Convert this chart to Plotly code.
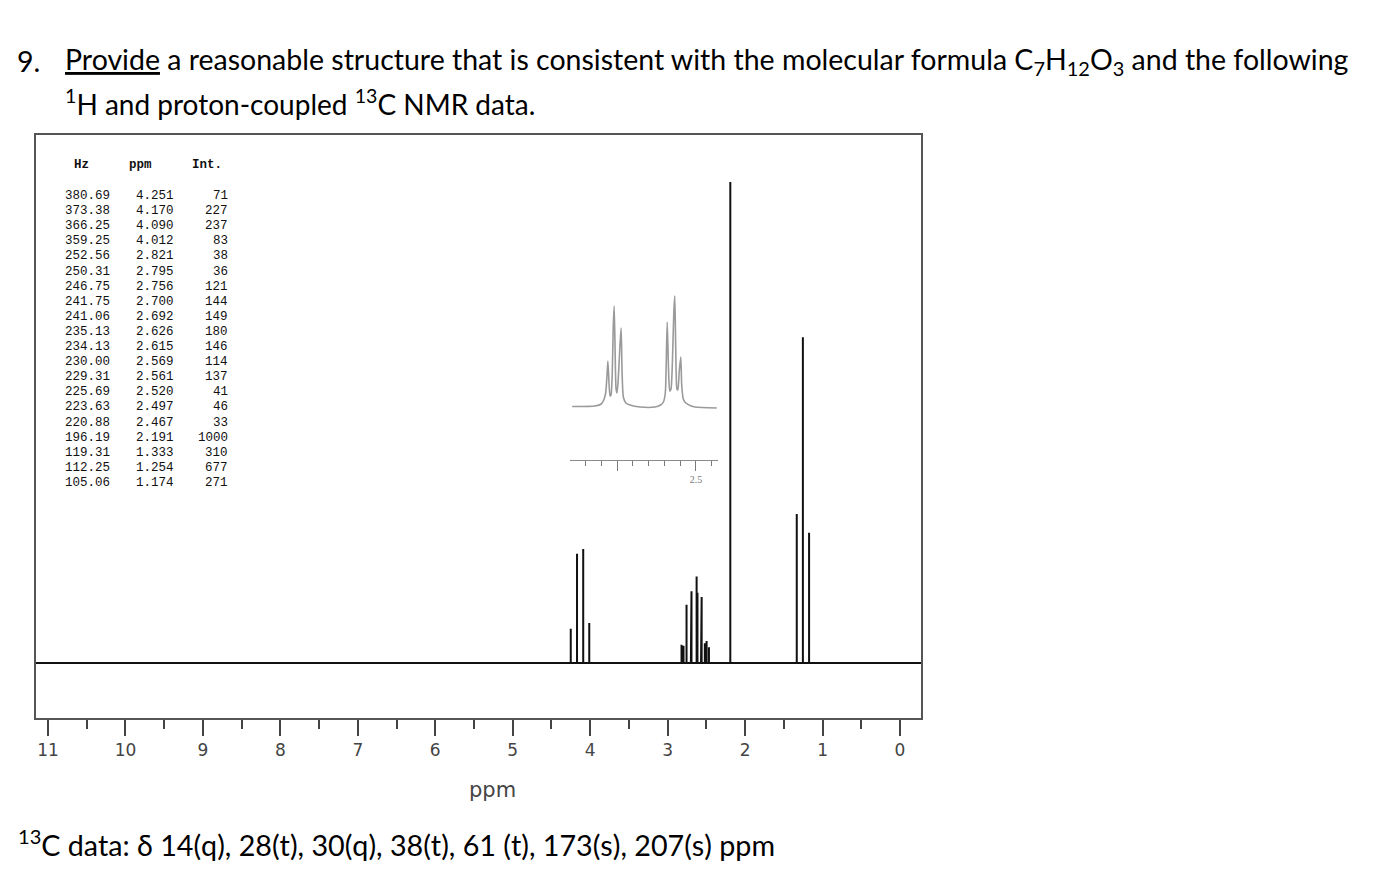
import plotly.graph_objects as go

# ---------------- data ----------------
hz = [380.69, 373.38, 366.25, 359.25, 252.56, 250.31, 246.75, 241.75, 241.06, 235.13,
      234.13, 230.00, 229.31, 225.69, 223.63, 220.88, 196.19, 119.31, 112.25, 105.06]
ppm = [4.251, 4.170, 4.090, 4.012, 2.821, 2.795, 2.756, 2.700, 2.692, 2.626,
       2.615, 2.569, 2.561, 2.520, 2.497, 2.467, 2.191, 1.333, 1.254, 1.174]
intensity = [71, 227, 237, 83, 38, 36, 121, 144, 149, 180,
             146, 114, 137, 41, 46, 33, 1000, 310, 677, 271]

x_ticks = [11, 10, 9, 8, 7, 6, 5, 4, 3, 2, 1, 0]

# expanded inset (2.4 - 2.9 ppm region)
inset_ppm = [2.892, 2.820, 2.800, 2.792, 2.786, 2.782, 2.779, 2.775, 2.772, 2.769, 2.765, 2.762, 2.759, 2.756,
             2.753, 2.750, 2.746, 2.741, 2.737, 2.734, 2.730, 2.722, 2.709, 2.677, 2.630, 2.612, 2.603, 2.597,
             2.594, 2.591, 2.587, 2.583, 2.579, 2.574, 2.570, 2.567, 2.564, 2.560, 2.557, 2.553, 2.548, 2.545,
             2.540, 2.532, 2.515, 2.503, 2.434]
inset_int = [0.5, 1, 3, 7, 14, 30, 46, 22, 11, 12, 35, 80, 101, 55,
             18, 14, 28, 60, 79, 35, 10, 4, 2, 0, 0, 2, 5, 14,
             45, 85, 40, 16, 18, 50, 95, 111, 60, 18, 17, 35, 50, 22,
             8, 4, 1, 0, -1]
inset_tickvals = [2.75, 2.5]
inset_ticktext = ["", "2.5"]

title_line1 = "<u>Provide</u> a reasonable structure that is consistent with the molecular formula C<sub>7</sub>H<sub>12</sub>O<sub>3</sub> and the following"
title_line2 = "<sup>1</sup>H and proton-coupled <sup>13</sup>C NMR data."
c13_text = "<sup>13</sup>C data: \u03b4 14(q), 28(t), 30(q), 38(t), 61 (t), 173(s), 207(s) ppm"

# ---------------- layout helpers ----------------
OFF = 8  # page body margin
W, H = 1376 - 2 * OFF, 869 - 2 * OFF
def px(x):
    return (x - OFF) / W
def py(y):
    return 1 - (y - OFF) / H

X_LEFT, X_RIGHT = 11.155, -0.271

# stick spectrum built from the peak list
pairs = sorted(zip(ppm, intensity), key=lambda t: -t[0])
xs, ys = [X_LEFT], [0]
for p, h in pairs:
    xs += [p, p, p]
    ys += [0, h, 0]
xs.append(X_RIGHT)
ys.append(0)

fig = go.Figure()
fig.add_trace(go.Scatter(x=xs, y=ys, mode="lines",
                         line=dict(color="#111111", width=2),
                         hoverinfo="skip", showlegend=False))
fig.add_trace(go.Scatter(x=inset_ppm, y=inset_int, mode="lines",
                         line=dict(color="#9a9a9a", width=1.6, shape="spline", smoothing=0.6),
                         xaxis="x2", yaxis="y2", hoverinfo="skip", showlegend=False))

fig.update_layout(
    width=W, height=H,
    margin=dict(l=0, r=0, t=0, b=0),
    paper_bgcolor="white", plot_bgcolor="white",
    showlegend=False,
    xaxis=dict(domain=[px(36), px(921)], range=[X_LEFT, X_RIGHT],
               showline=True, mirror=True, linecolor="#555555", linewidth=1.5,
               showgrid=False, zeroline=False,
               tickmode="array", tickvals=x_ticks, ticktext=[str(t) for t in x_ticks],
               ticks="outside", ticklen=16, tickwidth=1.5, tickcolor="#444444",
               minor=dict(dtick=0.5, ticks="outside", ticklen=9, tickwidth=1.5, tickcolor="#444444", showgrid=False),
               tickfont=dict(family="DejaVu Sans", size=17, color="#444444"),
               ticklabelstandoff=0),
    yaxis=dict(domain=[py(718), py(135)], range=[-114.3, 1097.7],
               showline=True, mirror=True, linecolor="#555555", linewidth=1.5,
               showgrid=False, zeroline=False, showticklabels=False, ticks=""),
    xaxis2=dict(domain=[px(570), px(718)], range=[2.899, 2.430], anchor="y2",
                showline=True, linecolor="#8a8a8a", linewidth=1.2,
                showgrid=False, zeroline=False,
                tickmode="array", tickvals=inset_tickvals, ticktext=inset_ticktext,
                ticks="outside", ticklen=10, tickwidth=1.3, tickcolor="#7a7a7a",
                minor=dict(dtick=0.05, ticks="outside", ticklen=5, tickwidth=1.3, tickcolor="#7a7a7a", showgrid=False),
                tickfont=dict(family="Liberation Serif", size=10, color="#777777")),
    yaxis2=dict(domain=[py(460), py(290)], range=[-53, 117], anchor="x2",
                visible=False),
)

ann = []
TF = "Lato"
# title
ann.append(dict(x=px(15), y=py(61), text="9.", xanchor="left", yanchor="middle",
                font=dict(family=TF, size=28.5, color="#000000")))
ann.append(dict(x=px(63), y=py(61), text=title_line1, xanchor="left", yanchor="middle",
                font=dict(family=TF, size=28.5, color="#000000")))
ann.append(dict(x=px(63), y=py(103), text=title_line2, xanchor="left", yanchor="middle",
                font=dict(family=TF, size=28, color="#000000")))
ann.append(dict(x=px(16), y=py(843), text=c13_text, xanchor="left", yanchor="middle",
                font=dict(family=TF, size=28.7, color="#000000")))
# axis title
ann.append(dict(x=px(492), y=py(790), text="ppm", xanchor="center", yanchor="middle",
                font=dict(family="DejaVu Sans", size=21, color="#444444")))
# peak table
tfont = dict(family="Liberation Mono", size=12.5, color="#111111")
ann.append(dict(x=px(81), y=py(165), text="<b>Hz</b>", xanchor="center", yanchor="middle", font=tfont))
ann.append(dict(x=px(140), y=py(165), text="<b>ppm</b>", xanchor="center", yanchor="middle", font=tfont))
ann.append(dict(x=px(207), y=py(165), text="<b>Int.</b>", xanchor="center", yanchor="middle", font=tfont))
row_gap = (483 - 196) / (len(hz) - 1)
for i, (h_, p_, n_) in enumerate(zip(hz, ppm, intensity)):
    yy = py(196 + i * row_gap)
    ann.append(dict(x=px(112), y=yy, text=f"{h_:.2f}", xanchor="right", yanchor="middle", font=tfont))
    ann.append(dict(x=px(175.5), y=yy, text=f"{p_:.3f}", xanchor="right", yanchor="middle", font=tfont))
    ann.append(dict(x=px(230), y=yy, text=f"{n_}", xanchor="right", yanchor="middle", font=tfont))

for a in ann:
    a.update(xref="paper", yref="paper", showarrow=False)
fig.update_layout(annotations=ann)

fig.write_html("out.html")
